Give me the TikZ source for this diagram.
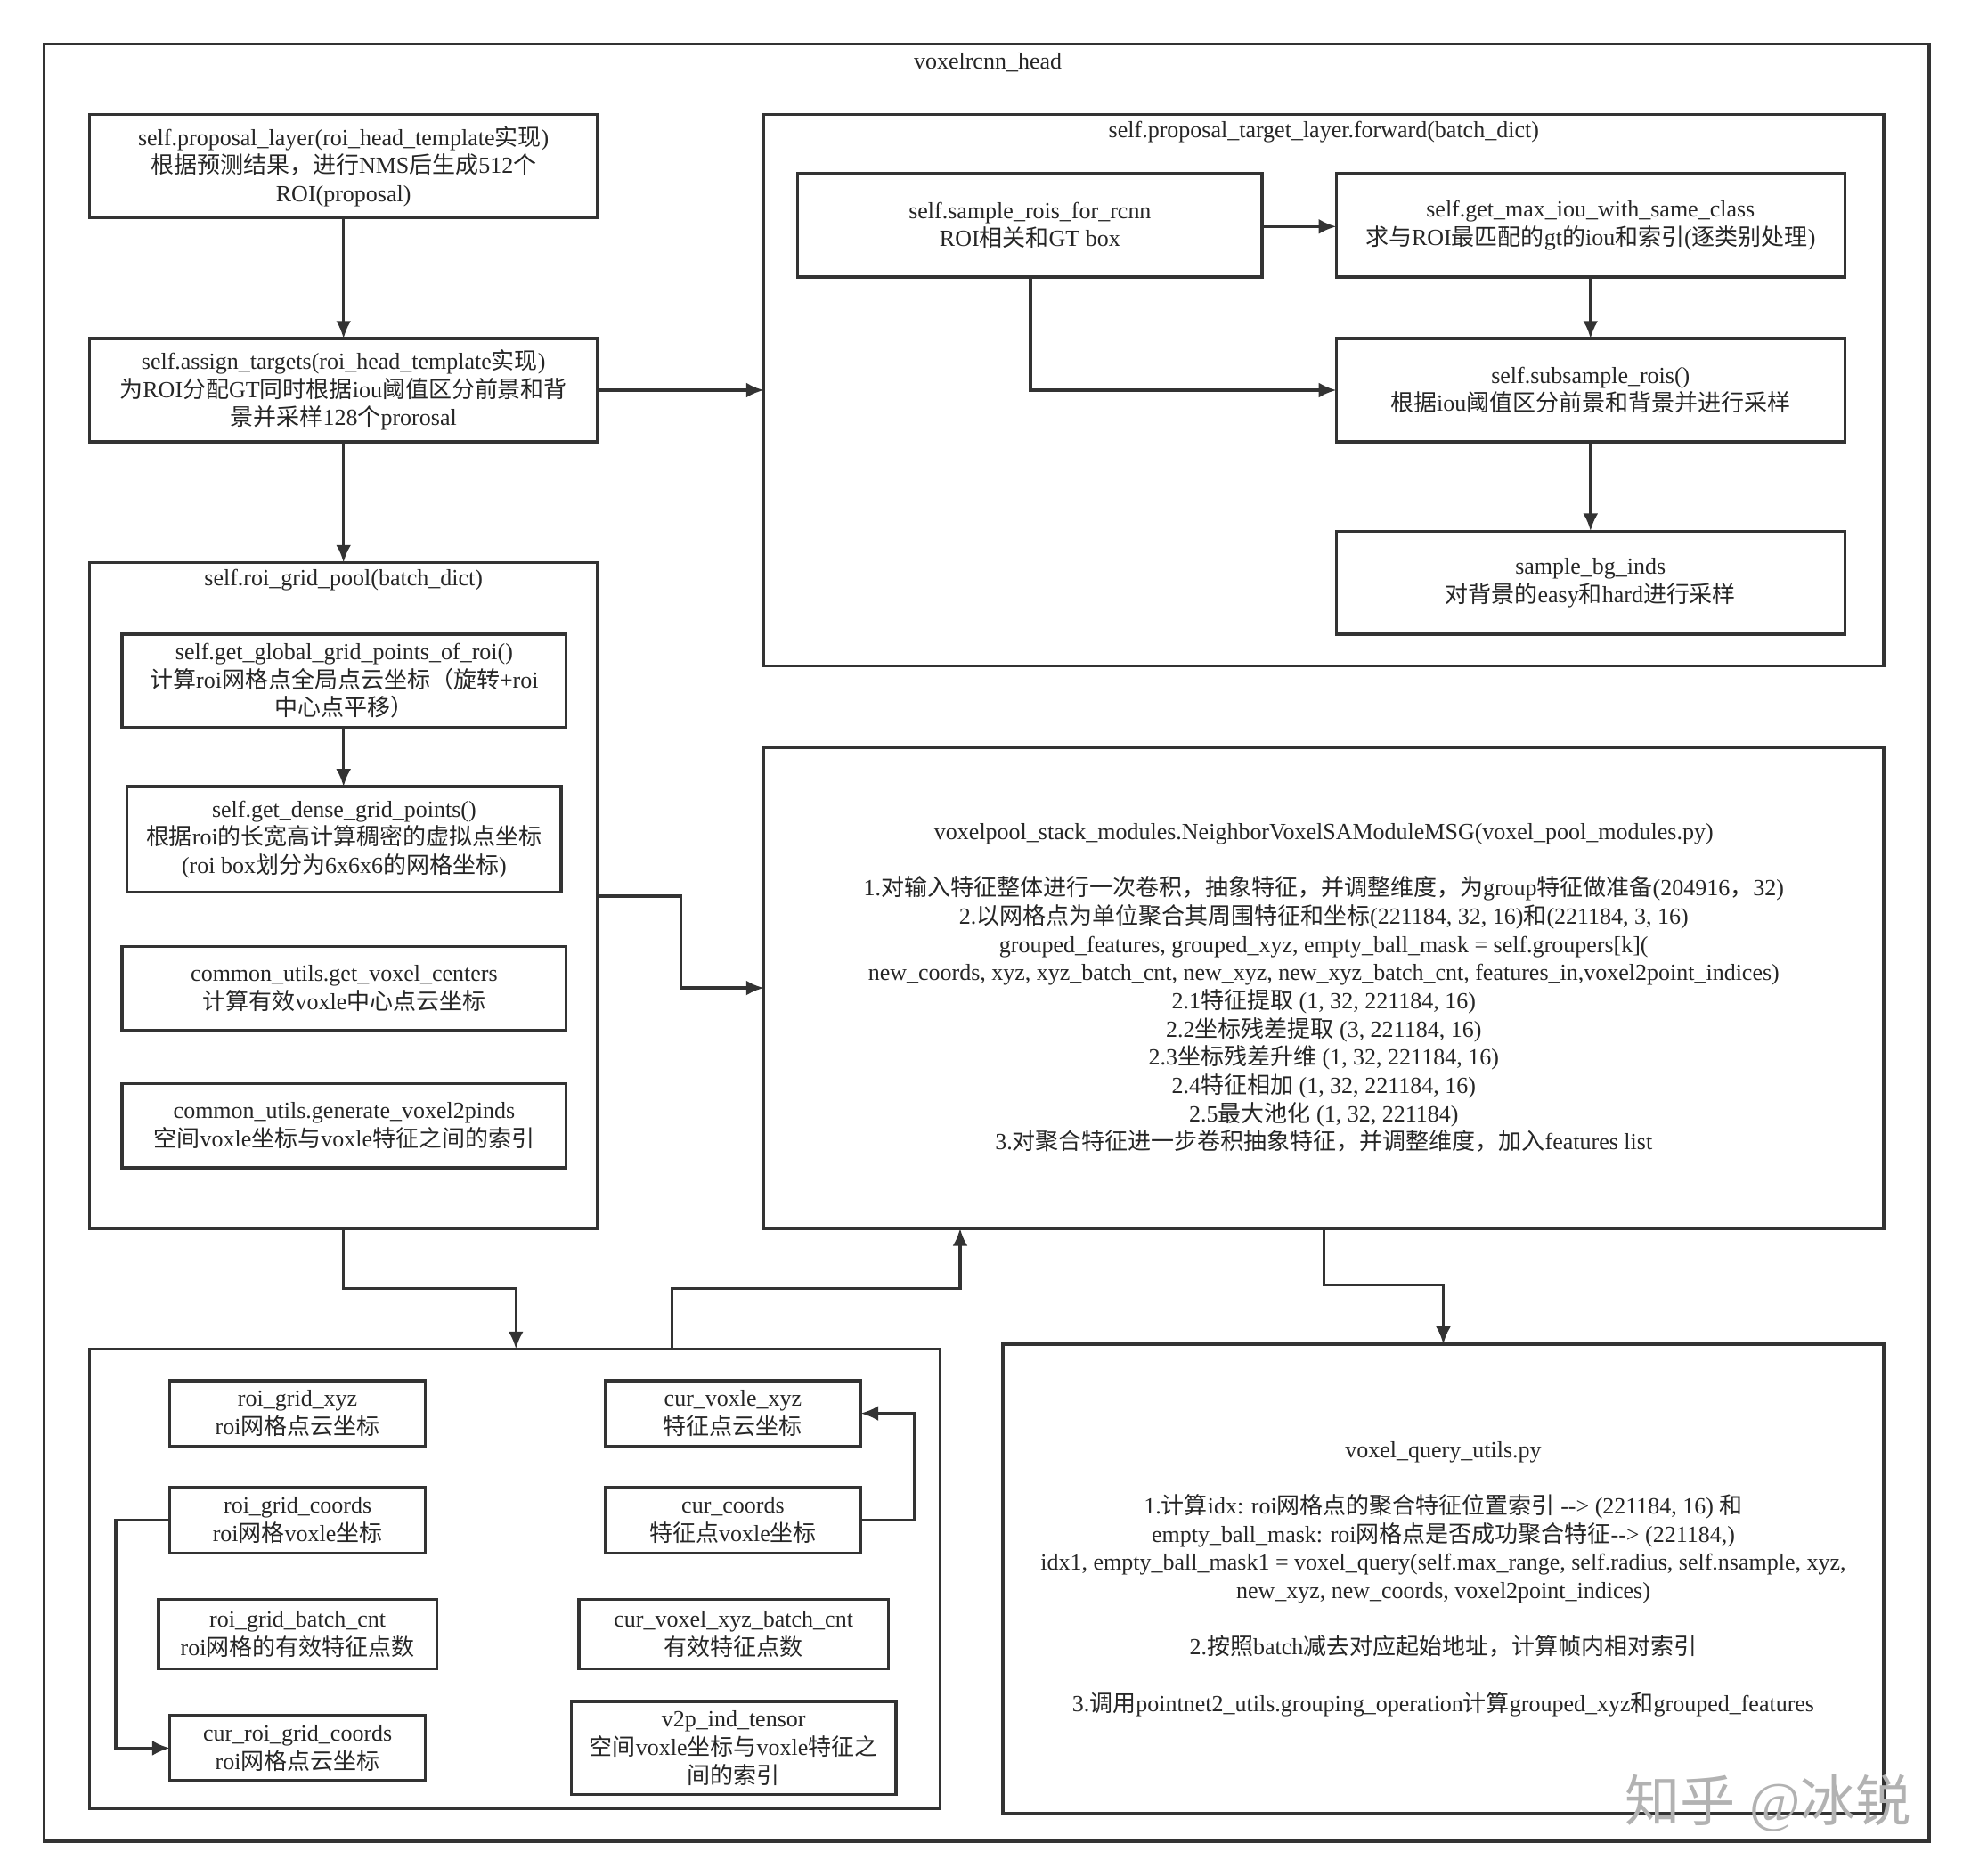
\documentclass[tikz,border=0pt]{standalone}
\usepackage{fontspec}
\setmainfont{Liberation Serif}
\newfontfamily\cjk{Noto Sans CJK SC}
\usetikzlibrary{arrows.meta}
\XeTeXinterchartokenstate=1
\newXeTeXintercharclass\cjkcls
\count255="4E00
\loop\XeTeXcharclass\count255=\cjkcls\ifnum\count255<"9FFF\advance\count255 by 1\repeat
\count255="3000
\loop\XeTeXcharclass\count255=\cjkcls\ifnum\count255<"303F\advance\count255 by 1\repeat
\count255="FF00
\loop\XeTeXcharclass\count255=\cjkcls\ifnum\count255<"FFEF\advance\count255 by 1\repeat
\XeTeXinterchartoks 0 \cjkcls={\begingroup\cjk}
\XeTeXinterchartoks \cjkcls 0={\endgroup}
\XeTeXinterchartoks 4095 \cjkcls={\begingroup\cjk}
\XeTeXinterchartoks \cjkcls 4095={\endgroup}
\begin{document}
\begin{tikzpicture}[x=0.5pt,y=-0.5pt,
  font=\fontsize{9.2}{11.2}\selectfont, text=black!85,
  box/.style={draw=black!80,line width=1.2pt},
  lbl/.style={align=center,inner sep=0pt},
  arr/.style={draw=black!80,line width=1.2pt,-{Latex[length=7pt,width=6pt]}}]
\useasboundingbox (0,0) rectangle (1560,1490);
\fill[white] (0,0) rectangle (1560,1490);
\newcommand\bx[6]{\draw[box] (#2,#3) rectangle (#4,#5);
  \node[lbl] (#1) at ({(#2+#4)/2},{(#3+#5)/2}) {#6};}
% outer
\draw[box] (35,35) rectangle (1533,1463);
\node[lbl] (title) at (785,50) {voxelrcnn\_head};
\bx{A}{71}{91}{475}{173}{self.proposal\_layer(roi\_head\_template实现)\\根据预测结果，进行NMS后生成512个\\ROI(proposal)}
\bx{B}{71}{269}{475}{351}{self.assign\_targets(roi\_head\_template实现)\\为ROI分配GT同时根据iou阈值区分前景和背\\景并采样128个prorosal}
\draw[box] (71,447) rectangle (475,976);
\coordinate (Ctop) at (273,447); \coordinate (Cr) at (475,712); \coordinate (Cb) at (273,976);
\node[lbl] (Ct) at (273,461) {self.roi\_grid\_pool(batch\_dict)};
\bx{C1}{97}{504}{450}{578}{self.get\_global\_grid\_points\_of\_roi()\\计算roi网格点全局点云坐标（旋转+roi\\中心点平移）}
\bx{C2}{101}{625}{446}{709}{self.get\_dense\_grid\_points()\\根据roi的长宽高计算稠密的虚拟点坐标\\(roi box划分为6x6x6的网格坐标)}
\bx{C3}{97}{752}{450}{819}{common\_utils.get\_voxel\_centers\\计算有效voxle中心点云坐标}
\bx{C4}{97}{861}{450}{928}{common\_utils.generate\_voxel2pinds\\空间voxle坐标与voxle特征之间的索引}
\draw[box] (607,91) rectangle (1497,529);
\coordinate (Dl) at (607,310);
\node[lbl] (Dt) at (1052,105) {self.proposal\_target\_layer.forward(batch\_dict)};
\bx{D1}{634}{138}{1003}{220}{self.sample\_rois\_for\_rcnn\\ROI相关和GT box}
\bx{D2}{1062}{138}{1466}{220}{self.get\_max\_iou\_with\_same\_class\\求与ROI最匹配的gt的iou和索引(逐类别处理)}
\bx{D3}{1062}{269}{1466}{351}{self.subsample\_rois()\\根据iou阈值区分前景和背景并进行采样}
\bx{D4}{1062}{422}{1466}{504}{sample\_bg\_inds\\对背景的easy和hard进行采样}
\bx{E}{607}{594}{1497}{976}{voxelpool\_stack\_modules.NeighborVoxelSAModuleMSG(voxel\_pool\_modules.py)\\[11.2pt]
1.对输入特征整体进行一次卷积，抽象特征，并调整维度，为group特征做准备(204916，32)\\
2.以网格点为单位聚合其周围特征和坐标(221184, 32, 16)和(221184, 3, 16)\\
grouped\_features, grouped\_xyz, empty\_ball\_mask = self.groupers[k](\\
new\_coords, xyz, xyz\_batch\_cnt, new\_xyz, new\_xyz\_batch\_cnt, features\_in,voxel2point\_indices)\\
2.1特征提取 (1, 32, 221184, 16)\\
2.2坐标残差提取 (3, 221184, 16)\\
2.3坐标残差升维 (1, 32, 221184, 16)\\
2.4特征相加 (1, 32, 221184, 16)\\
2.5最大池化 (1, 32, 221184)\\
3.对聚合特征进一步卷积抽象特征，并调整维度，加入features list}
\draw[box] (71,1072) rectangle (747,1437);
\coordinate (Fa) at (410,1072); \coordinate (Fb) at (534,1072);
\bx{F1}{135}{1097}{338}{1149}{roi\_grid\_xyz\\roi网格点云坐标}
\bx{F2}{135}{1182}{338}{1234}{roi\_grid\_coords\\roi网格voxle坐标}
\bx{F3}{126}{1271}{347}{1326}{roi\_grid\_batch\_cnt\\roi网格的有效特征点数}
\bx{F4}{135}{1363}{338}{1415}{cur\_roi\_grid\_coords\\roi网格点云坐标}
\bx{F5}{481}{1097}{684}{1149}{cur\_voxle\_xyz\\特征点云坐标}
\bx{F6}{481}{1182}{684}{1234}{cur\_coords\\特征点voxle坐标}
\bx{F7}{460}{1271}{706}{1326}{cur\_voxel\_xyz\_batch\_cnt\\有效特征点数}
\bx{F8}{454}{1352}{712}{1426}{v2p\_ind\_tensor\\空间voxle坐标与voxle特征之\\间的索引}
\bx{G}{797}{1068}{1497}{1441}{voxel\_query\_utils.py\\[11.2pt]
1.计算idx: roi网格点的聚合特征位置索引 -{}-\textgreater{} (221184, 16) 和\\
empty\_ball\_mask: roi网格点是否成功聚合特征-{}-\textgreater{} (221184,)\\
idx1, empty\_ball\_mask1 = voxel\_query(self.max\_range, self.radius, self.nsample, xyz,\\
new\_xyz, new\_coords, voxel2point\_indices)\\[11.2pt]
2.按照batch减去对应起始地址，计算帧内相对索引\\[11.2pt]
3.调用pointnet2\_utils.grouping\_operation计算grouped\_xyz和grouped\_features}
\node[lbl,text=black!30,font=\fontsize{22}{24}\selectfont] (wm) at (1405,1433) {知乎 @冰锐};
% arrows
\draw[arr] (273,173) -- (273,269);
\draw[arr] (273,351) -- (Ctop);
\draw[arr] (475,310) -- (Dl);
\draw[arr] (1003,180) -- (1062,180);
\draw[arr] (1264,220) -- (1264,269);
\draw[arr] (819,220) |- (1062,310);
\draw[arr] (1264,351) -- (1264,422);
\draw[arr] (273,578) -- (273,625);
\draw[arr] (Cr) -- (541,712) |- (607,785);
\draw[arr] (Cb) -- (273,1024) -| (Fa);
\draw[arr] (Fb) -- (534,1024) -| (763,976);
\draw[arr] (1052,976) -- (1052,1021) -| (1147,1068);
\draw[arr] (684,1208) -- (727,1208) |- (684,1123);
\draw[arr] (135,1208) -- (92,1208) |- (135,1389);
\end{tikzpicture}
\end{document}
